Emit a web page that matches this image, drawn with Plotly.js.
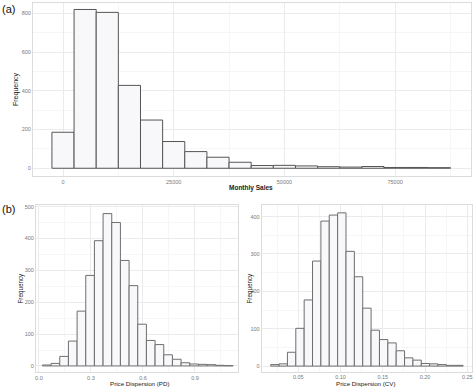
<!DOCTYPE html>
<html>
<head>
<meta charset="utf-8">
<script src="https://cdn.plot.ly/plotly-3.0.1.min.js"></script>
<style>html,body{margin:0;padding:0;background:#fff;}#chart{width:474px;height:387px;}</style>
</head>
<body>
<div id="chart"></div>
<script>
// Panel (a): Monthly Sales histogram (bin centers, counts)
const salesBins = [0, 5000, 10000, 15000, 20000, 25000, 30000, 35000, 40000, 45000, 50000, 55000, 60000, 65000, 70000, 75000, 80000, 85000];
const salesCounts = [186, 820, 805, 428, 249, 138, 86, 57, 31, 14, 15, 12, 8, 6, 9, 4, 4, 3];
const salesTicks = [0, 25000, 50000, 75000];

// Panel (b) left: Price Dispersion (PD)
const pdBins = [0.045, 0.095, 0.145, 0.195, 0.245, 0.295, 0.345, 0.395, 0.445, 0.495, 0.545, 0.595, 0.645, 0.695, 0.745, 0.795, 0.845, 0.895, 0.945, 0.995, 1.045, 1.095];
const pdCounts = [3, 8, 30, 78, 172, 284, 393, 478, 450, 331, 252, 131, 80, 67, 35, 21, 10, 6, 5, 4, 2, 1];
const pdTicks = [0.0, 0.3, 0.6, 0.9];
const pdTickText = ['0.0', '0.3', '0.6', '0.9'];

// Panel (b) right: Price Dispersion (CV)
const cvBins = [0.0223, 0.0322, 0.0421, 0.0520, 0.0619, 0.0718, 0.0817, 0.0916, 0.1015, 0.1114, 0.1213, 0.1312, 0.1411, 0.1510, 0.1609, 0.1708, 0.1807, 0.1906, 0.2005, 0.2104, 0.2203, 0.2302, 0.2401];
const cvCounts = [4, 6, 37, 101, 177, 281, 388, 404, 410, 307, 239, 155, 96, 71, 62, 41, 22, 16, 7, 6, 4, 2, 2];
const cvTicks = [0.05, 0.10, 0.15, 0.20, 0.25];
const cvTickText = ['0.05', '0.10', '0.15', '0.20', '0.25'];

const W = 474, H = 387;
const px = v => v / W;
const py = v => 1 - v / H;

const FONT = 'Liberation Sans, Arial, sans-serif';
const fill = '#f8f7fa';
const tickFont = {family: FONT, size: 5.5, color: '#7a7a7a'};
const gridC = '#ebebeb';
const minorC = '#f6f6f6';
const borderC = '#dcdcdc';

function bars(x, y, w, xa, ya, lc) {
  return {type: 'bar', x: x, y: y, width: w, xaxis: xa, yaxis: ya,
    marker: {color: fill, line: {color: lc, width: 1}}, hoverinfo: 'skip', showlegend: false};
}

const traces = [
  bars(salesBins, salesCounts, 5000, 'x', 'y', '#555555'),
  bars(pdBins, pdCounts, 0.05, 'x2', 'y2', '#6e6e6e'),
  bars(cvBins, cvCounts, 0.0099, 'x3', 'y3', '#6e6e6e')
];

function ax(extra) {
  return Object.assign({
    showline: true, mirror: true, linecolor: borderC, linewidth: 1,
    showgrid: true, gridcolor: gridC, gridwidth: 1, zeroline: false,
    ticks: '', tickfont: tickFont, ticklabelstandoff: 0
  }, extra);
}

function label(text, x, y, size, opts) {
  return Object.assign({text: text, xref: 'paper', yref: 'paper', x: px(x), y: py(y),
    xanchor: 'center', yanchor: 'middle', showarrow: false,
    font: {family: FONT, size: size, color: '#1a1a1a'}}, opts || {});
}

const layout = {
  width: W, height: H,
  margin: {l: 0, r: 0, t: 0, b: 0},
  paper_bgcolor: '#ffffff', plot_bgcolor: '#ffffff',
  bargap: 0,
  font: {family: FONT},
  xaxis: ax({domain: [px(33), px(471)], range: [-6775, 92140], anchor: 'y',
    tickvals: salesTicks, ticktext: salesTicks.map(String),
    minor: {showgrid: true, gridcolor: minorC, dtick: 12500, tick0: 12500}}),
  yaxis: ax({domain: [py(176), py(2.7)], range: [-40, 855], anchor: 'x',
    tickvals: [0, 200, 400, 600, 800],
    minor: {showgrid: true, gridcolor: minorC, dtick: 100, tick0: 100}}),
  xaxis2: ax({domain: [px(36), px(238.3)], range: [-0.017, 1.15], anchor: 'y2',
    tickvals: pdTicks, ticktext: pdTickText,
    minor: {showgrid: true, gridcolor: minorC, dtick: 0.15, tick0: 0.15}}),
  yaxis2: ax({domain: [py(372), py(205)], range: [-19, 505], anchor: 'x2',
    tickvals: [0, 100, 200, 300, 400, 500],
    minor: {showgrid: true, gridcolor: minorC, dtick: 50, tick0: 50}}),
  xaxis3: ax({domain: [px(261.7), px(471.7)], range: [0.0067, 0.2552], anchor: 'y3',
    tickvals: cvTicks, ticktext: cvTickText,
    minor: {showgrid: true, gridcolor: minorC, dtick: 0.025, tick0: 0.025}}),
  yaxis3: ax({domain: [py(371.7), py(205)], range: [-15, 431], anchor: 'x3',
    tickvals: [0, 100, 200, 300, 400],
    minor: {showgrid: true, gridcolor: minorC, dtick: 50, tick0: 50}}),
  annotations: [
    label('(a)', 0, 1, 11, {xanchor: 'left', yanchor: 'top', font: {family: FONT, size: 11, color: '#111'}}),
    label('(b)', 0, 201, 11, {xanchor: 'left', yanchor: 'top', font: {family: FONT, size: 11, color: '#111'}}),
    label('<b>Monthly Sales</b>', 251, 187.5, 6.5),
    label('Frequency', 15.5, 89.5, 7, {textangle: -90}),
    label('Price Dispersion (PD)', 139, 383, 6.2),
    label('Frequency', 20, 288.5, 6.3, {textangle: -90}),
    label('Price Dispersion (CV)', 365, 383, 6.2),
    label('Frequency', 249, 288.5, 6.3, {textangle: -90})
  ]
};

Plotly.newPlot('chart', traces, layout, {staticPlot: true, displayModeBar: false});
</script>
</body>
</html>
